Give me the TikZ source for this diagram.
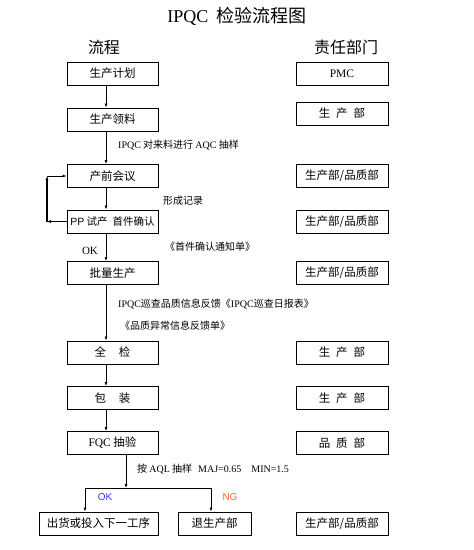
\documentclass[tikz,border=0pt]{standalone}
\usepackage{fontspec}
\setmainfont{Noto Sans CJK SC}
\newfontfamily\en{Liberation Serif}
\newfontfamily\ensans{Liberation Sans}
\usetikzlibrary{arrows.meta,positioning}

\definecolor{okblue}{RGB}{51,51,255}
\definecolor{ngorange}{RGB}{255,102,51}

\begin{document}
\begin{tikzpicture}[
    x=1pt,
    y=-1pt,
    box/.style={
        draw,
        line width=1pt,
        minimum width=91pt,
        minimum height=23pt,
        inner sep=0pt,
        font=\fontsize{11.5}{13}\selectfont
    },
    dept/.style={
        box,
        minimum width=92pt
    },
    note/.style={
        anchor=west,
        inner sep=0pt,
        font=\fontsize{10}{12}\selectfont
    },
    heading/.style={
        inner sep=0pt,
        font=\fontsize{16}{18}\selectfont
    },
    arrow/.style={
        -{Latex[length=4pt,width=3pt]},
        line width=0.7pt
    }
]
\useasboundingbox (0,0) rectangle (474,550);

% headings
\node[inner sep=0pt, font=\fontsize{18}{20}\selectfont] (title) at (237,16) {{\en IPQC}\hspace{8pt}检验流程图};
\node[heading] (flowhead) at (104,47) {流程};
\node[heading] (depthead) at (346,47) {责任部门};

% flow column
\node[box] (plan) at (112.5,73.5) {生产计划};
\node[box] (pick) at (112.5,119.5) {生产领料};
\node[box] (meeting) at (112.5,176) {产前会议};
\node[box, font=\fontsize{10.5}{12}\selectfont] (trial) at (112.5,221.5) {{\ensans PP} 试产\hspace{5pt}首件确认};
\node[box] (mass) at (112.5,273) {批量生产};
\node[box] (fullcheck) at (112.5,352.5) {全\hspace{13pt}检};
\node[box] (pack) at (112.5,398) {包\hspace{13pt}装};
\node[box] (fqc) at (112.5,443) {{\en FQC} 抽验};
\node[box, minimum width=119pt] (ship) at (98.5,523.5) {出货或投入下一工序};
\node[box, minimum width=73pt] (back) at (214.5,523.5) {退生产部};

% department column
\node[dept] (dplan) at (342,73.5) {\en PMC};
\node[dept] (dpick) at (342,113.5) {生\hspace{6pt}产\hspace{6pt}部};
\node[dept] (dmeeting) at (342,176) {生产部/品质部};
\node[dept] (dtrial) at (342,221.5) {生产部/品质部};
\node[dept] (dmass) at (342,273) {生产部/品质部};
\node[dept] (dfullcheck) at (342,352.5) {生\hspace{6pt}产\hspace{6pt}部};
\node[dept] (dpack) at (342,398) {生\hspace{6pt}产\hspace{6pt}部};
\node[dept] (dfqc) at (342,443) {品\hspace{6pt}质\hspace{6pt}部};
\node[dept] (dend) at (342,523.5) {生产部/品质部};

% notes
\node[note] (aqcnote) at (118,145) {{\en IPQC} 对来料进行 {\en AQC} 抽样};
\node[note] (recnote) at (163,201) {形成记录};
\node[inner sep=0pt, font=\en\fontsize{11}{12}\selectfont] (oktrial) at (90,251) {OK};
\node[note] (firstnote) at (165,247) {《首件确认通知单》};
\node[note] (patrolnote) at (118,304) {{\en IPQC}巡查品质信息反馈《{\en IPQC}巡查日报表》};
\node[note] (abnnote) at (120,326) {《品质异常信息反馈单》};
\node[note] (aqlnote) at (137,469) {按 {\en AQL} 抽样\hspace{6pt}{\en MAJ=0.65\hspace{10pt}MIN=1.5}};
\node[inner sep=0pt, text=okblue, font=\ensans\fontsize{10}{11}\selectfont] (oklabel) at (105,497) {OK};
\node[inner sep=0pt, text=ngorange, font=\ensans\fontsize{10}{11}\selectfont] (nglabel) at (230,497) {NG};

% connectors
\coordinate (spine) at (106,0);
\coordinate (loopbot) at (47,221.5);
\coordinate (looptop) at (47,176);
\coordinate (split) at (126,488);
\coordinate (okend) at (85,488);
\coordinate (ngend) at (211,488);

\draw[arrow] (plan.south -| spine) -- (pick.north -| spine);
\draw[arrow] (pick.south -| spine) -- (meeting.north -| spine);
\draw[arrow] (meeting.south -| spine) -- (trial.north -| spine);
\draw[arrow] (trial.west) -- (loopbot);
\draw[arrow, line width=1.2pt] (loopbot) -- (looptop);
\draw[arrow] (looptop) -- (meeting.west);
\draw[arrow] (trial.south -| spine) -- (mass.north -| spine);
\draw[arrow] (mass.south -| spine) -- (fullcheck.north -| spine);
\draw[arrow] (fullcheck.south -| spine) -- (pack.north -| spine);
\draw[arrow] (pack.south -| spine) -- (fqc.north -| spine);
\draw[arrow] (fqc.south -| split) -- (split);
\draw[line width=0.7pt] (okend) -- (ngend);
\draw[arrow] (okend) -- (ship.north -| okend);
\draw[arrow] (ngend) -- (back.north -| ngend);

\end{tikzpicture}
\end{document}
